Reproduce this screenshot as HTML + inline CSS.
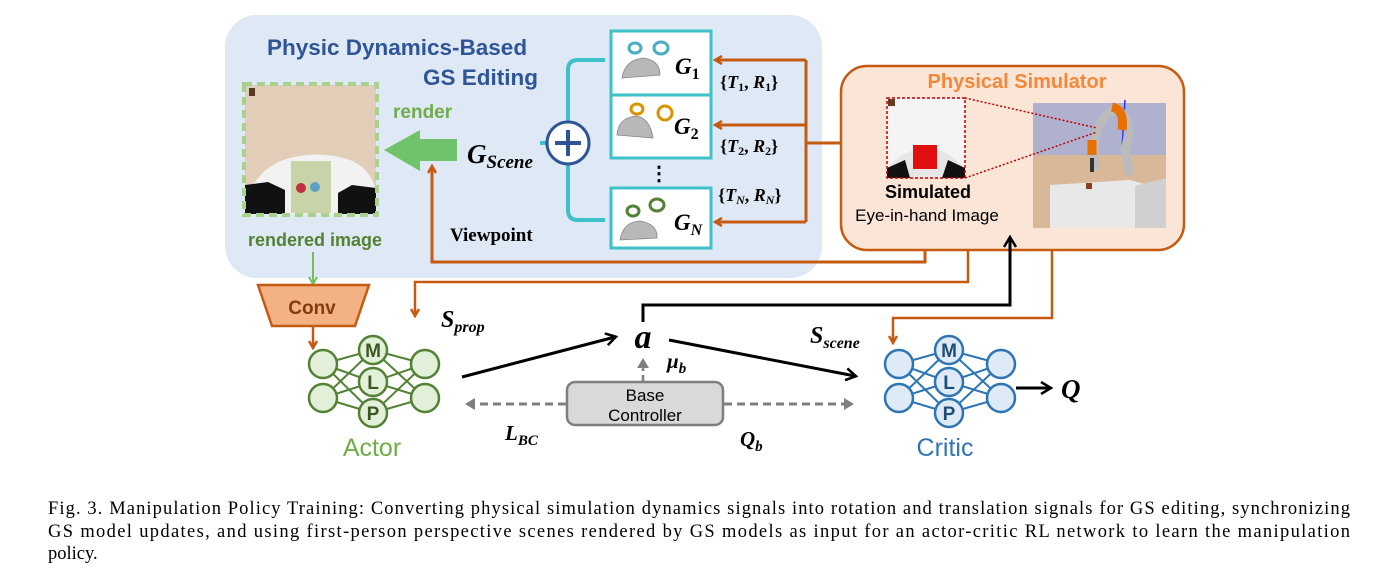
<!DOCTYPE html>
<html><head><meta charset="utf-8"><style>
html,body{margin:0;padding:0;background:#fff;}
svg{display:block;}
.ser{font-family:"Liberation Serif",serif;}
.san{font-family:"Liberation Sans",sans-serif;}
</style></head><body>
<svg width="1398" height="588" viewBox="0 0 1398 588" xmlns="http://www.w3.org/2000/svg">
<defs>
<marker id="ao" markerWidth="10" markerHeight="10" refX="7" refY="5" orient="auto" markerUnits="userSpaceOnUse"><path d="M1,1 L8,5 L1,9" fill="none" stroke="#c55a11" stroke-width="2.5"/></marker>
<marker id="ab" markerWidth="14" markerHeight="14" refX="10" refY="7" orient="auto" markerUnits="userSpaceOnUse"><path d="M1,1 L11,7 L1,13" fill="none" stroke="#000" stroke-width="2.5"/></marker>
<marker id="ag" markerWidth="12" markerHeight="12" refX="8" refY="6" orient="auto" markerUnits="userSpaceOnUse"><path d="M0,0 L10,6 L0,12 z" fill="#7f7f7f"/></marker>
<marker id="agr" markerWidth="10" markerHeight="10" refX="7" refY="5" orient="auto" markerUnits="userSpaceOnUse"><path d="M1,1 L8,5 L1,9" fill="none" stroke="#70c060" stroke-width="2"/></marker>
</defs>

<rect x="225" y="15" width="597" height="263" rx="32" fill="#dfe9f5"/>
<text x="397" y="55" text-anchor="middle" class="san" font-weight="bold" font-size="22.5" fill="#2f5597">Physic Dynamics-Based</text>
<text x="538" y="85" text-anchor="end" class="san" font-weight="bold" font-size="22.5" fill="#2f5597">GS Editing</text>

<rect x="245" y="85" width="131" height="129" fill="#e2cdb8"/>
<path d="M245,200 Q260,165 290,158 Q320,150 350,160 Q370,168 376,190 L376,214 L245,214 z" fill="#f2f2f2"/>
<rect x="291" y="161" width="40" height="52" fill="#c9d3a8"/>
<circle cx="301" cy="188" r="5" fill="#c03040"/><circle cx="315" cy="187" r="5" fill="#5aa0c8"/>
<path d="M245,185 L268,182 L285,190 L285,214 L245,214z" fill="#111"/>
<path d="M376,188 L352,185 L338,193 L338,214 L376,214z" fill="#111"/>
<rect x="249" y="88" width="6" height="8" fill="#5a3a20"/>
<rect x="244" y="84" width="133" height="131" fill="none" stroke="#a9d18e" stroke-width="4" stroke-dasharray="8,5"/>
<text x="393" y="118" class="san" font-weight="bold" font-size="19" fill="#70ad47">render</text>
<text x="248" y="246" class="san" font-weight="bold" font-size="18" fill="#548235">rendered image</text>
<path d="M384,150 L420,130 L420,139 L457,139 L457,161 L420,161 L420,171 z" fill="#70c36a"/>
<text x="467" y="163" class="ser" font-weight="bold" font-style="italic" font-size="27" fill="#000">G<tspan font-size="19" dy="5">Scene</tspan></text>

<path d="M540,143 L548,143" stroke="#3fc1c9" stroke-width="4"/>
<path d="M605,60 L578,60 Q568,60 568,70 L568,210 Q568,220 578,220 L605,220" fill="none" stroke="#3fc1c9" stroke-width="4"/>
<circle cx="568" cy="143" r="21" fill="#fff" stroke="#2f5597" stroke-width="3"/>
<path d="M555,143 L581,143 M568,130 L568,156" stroke="#2f5597" stroke-width="4"/>

<g stroke="#3fc1c9" stroke-width="3" fill="#fff">
<rect x="611" y="31" width="100" height="64"/>
<rect x="611" y="95" width="100" height="63"/>
<rect x="611" y="188" width="100" height="60"/>
</g>
<g fill="#b8b8b8" stroke="#888" stroke-width="0.8">
<path d="M622,78 Q625,60 643,58 Q660,60 660,75 Z"/>
<path d="M617,135 Q618,118 636,116 Q650,118 653,138 Z"/>
<path d="M620,240 Q623,222 640,221 Q658,224 657,238 Z"/>
</g>
<g fill="none" stroke-width="3">
<ellipse cx="635" cy="48" rx="6" ry="5" stroke="#4bacc6"/><ellipse cx="661" cy="48" rx="7" ry="6" stroke="#4bacc6"/>
<ellipse cx="637" cy="109" rx="6" ry="5" stroke="#d99500"/><ellipse cx="665" cy="113" rx="7" ry="7" stroke="#d99500"/>
<ellipse cx="633" cy="211" rx="6" ry="5" stroke="#548235"/><ellipse cx="657" cy="205" rx="7" ry="6" stroke="#548235"/>
</g>
<text x="675" y="74" class="ser" font-weight="bold" font-style="italic" font-size="23">G<tspan font-size="16" dy="5" font-style="normal">1</tspan></text>
<text x="674" y="134" class="ser" font-weight="bold" font-style="italic" font-size="23">G<tspan font-size="16" dy="5" font-style="normal">2</tspan></text>
<text x="674" y="230" class="ser" font-weight="bold" font-style="italic" font-size="23">G<tspan font-size="16" dy="5">N</tspan></text>
<text x="659" y="180" text-anchor="middle" class="ser" font-weight="bold" font-size="20">⋮</text>
<g class="ser" font-weight="bold" font-size="18">
<text x="720" y="88">{<tspan font-style="italic">T</tspan><tspan font-size="12" dy="3">1</tspan><tspan dy="-3">, </tspan><tspan font-style="italic">R</tspan><tspan font-size="12" dy="3">1</tspan><tspan dy="-3">}</tspan></text>
<text x="720" y="152">{<tspan font-style="italic">T</tspan><tspan font-size="12" dy="3">2</tspan><tspan dy="-3">, </tspan><tspan font-style="italic">R</tspan><tspan font-size="12" dy="3">2</tspan><tspan dy="-3">}</tspan></text>
<text x="718" y="201">{<tspan font-style="italic">T</tspan><tspan font-size="12" dy="3" font-style="italic">N</tspan><tspan dy="-3">, </tspan><tspan font-style="italic">R</tspan><tspan font-size="12" dy="3" font-style="italic">N</tspan><tspan dy="-3">}</tspan></text>
</g>
<text x="450" y="241" class="ser" font-weight="bold" font-size="19">Viewpoint</text>

<g fill="none" stroke="#c55a11" stroke-width="3">
<path d="M806,60 L806,222"/>
<path d="M806,143 L841,143"/>
<path d="M806,60 L716,60" marker-end="url(#ao)"/>
<path d="M806,125 L716,125" marker-end="url(#ao)"/>
<path d="M806,222 L716,222" marker-end="url(#ao)"/>
<path d="M925,250 L925,262 L432,262 L432,167" marker-end="url(#ao)"/>
</g>

<rect x="841" y="66" width="343" height="184" rx="26" fill="#fbe5d6" stroke="#c55a11" stroke-width="2.5"/>
<text x="1017" y="88" text-anchor="middle" class="san" font-weight="bold" font-size="20" fill="#f4883a">Physical Simulator</text>
<rect x="887" y="98" width="78" height="80" fill="#f4f4f4"/>
<path d="M887,170 Q900,150 926,148 Q952,150 965,170 L965,178 L887,178z" fill="#e6e6e6"/>
<rect x="913" y="145" width="24" height="24" fill="#e01010"/>
<path d="M887,168 L905,160 L910,178 L887,178z M965,168 L948,160 L942,178 L965,178z" fill="#111"/>
<rect x="888" y="99" width="7" height="7" fill="#6a3a20"/>
<rect x="887" y="98" width="78" height="80" fill="none" stroke="#c00000" stroke-width="1.5" stroke-dasharray="3,2"/>
<text x="928" y="198" text-anchor="middle" class="san" font-weight="bold" font-size="18">Simulated</text>
<text x="927" y="221" text-anchor="middle" class="san" font-size="17">Eye-in-hand Image</text>
<rect x="1033" y="103" width="133" height="125" fill="#b0b0cf"/>
<rect x="1033" y="155" width="133" height="73" fill="#d8b898"/>
<path d="M1050,185 L1130,180 L1166,190 L1166,228 L1050,228z" fill="#e8e8e8"/>
<path d="M1135,186 L1166,178 L1166,228 L1135,228z" fill="#d0d0d0"/>
<path d="M1125,100 L1122,150" stroke="#2030ff" stroke-width="1.5"/>
<path d="M1095,170 Q1090,120 1115,110 Q1135,115 1125,150 L1130,175" fill="none" stroke="#bbb" stroke-width="9"/>
<path d="M1112,107 Q1125,110 1122,130" fill="none" stroke="#e87000" stroke-width="9"/>
<path d="M1092,140 L1092,155" stroke="#e87000" stroke-width="9"/>
<path d="M1092,158 L1092,172" stroke="#333" stroke-width="4"/>
<rect x="1086" y="183" width="6" height="6" fill="#8a4020"/>
<path d="M965,98 L1097,128 M965,178 L1097,132" stroke="#c00000" stroke-width="1.5" stroke-dasharray="2,2"/>

<g fill="none" stroke="#c55a11" stroke-width="2.5">
<path d="M968,250 L968,282 L415,282 L415,315" marker-end="url(#ao)"/>
<path d="M1052,250 L1052,318 L893,318 L893,342" marker-end="url(#ao)"/>
<path d="M313,326 L313,347" marker-end="url(#ao)"/>
</g>
<path d="M313,252 L313,283" stroke="#70c060" stroke-width="2" marker-end="url(#agr)"/>
<path d="M643,322 L643,305 L1010,305 L1010,238" fill="none" stroke="#000" stroke-width="3" marker-end="url(#ab)"/>

<path d="M258,285 L369,285 L355,326 L272,326z" fill="#f4b183" stroke="#c55a11" stroke-width="2.5"/>
<text x="312" y="314" text-anchor="middle" class="san" font-weight="bold" font-size="19" fill="#843c0c">Conv</text>
<text x="441" y="327" class="ser" font-weight="bold" font-style="italic" font-size="24">S<tspan font-size="16" dy="5">prop</tspan></text>

<g stroke="#548235" stroke-width="2">
<path d="M323,364 L373,350 M323,364 L373,382 M323,364 L373,413 M323,398 L373,350 M323,398 L373,382 M323,398 L373,413 M425,364 L373,350 M425,364 L373,382 M425,364 L373,413 M425,398 L373,350 M425,398 L373,382 M425,398 L373,413"/>
</g>
<g fill="#e2f0d9" stroke="#548235" stroke-width="2.5">
<circle cx="323" cy="364" r="14"/><circle cx="323" cy="398" r="14"/>
<circle cx="373" cy="350" r="14"/><circle cx="373" cy="382" r="14"/><circle cx="373" cy="413" r="14"/>
<circle cx="425" cy="364" r="14"/><circle cx="425" cy="398" r="14"/>
</g>
<g class="san" font-weight="bold" font-size="19" fill="#385723" text-anchor="middle">
<text x="373" y="357">M</text><text x="373" y="389">L</text><text x="373" y="420">P</text></g>
<text x="372" y="456" text-anchor="middle" class="san" font-size="25" fill="#70ad47">Actor</text>

<g stroke="#2e75b6" stroke-width="2">
<path d="M899,364 L949,350 M899,364 L949,382 M899,364 L949,413 M899,398 L949,350 M899,398 L949,382 M899,398 L949,413 M1001,364 L949,350 M1001,364 L949,382 M1001,364 L949,413 M1001,398 L949,350 M1001,398 L949,382 M1001,398 L949,413"/>
</g>
<g fill="#deebf7" stroke="#2e75b6" stroke-width="2.5">
<circle cx="899" cy="364" r="14"/><circle cx="899" cy="398" r="14"/>
<circle cx="949" cy="350" r="14"/><circle cx="949" cy="382" r="14"/><circle cx="949" cy="413" r="14"/>
<circle cx="1001" cy="364" r="14"/><circle cx="1001" cy="398" r="14"/>
</g>
<g class="san" font-weight="bold" font-size="19" fill="#1f4e79" text-anchor="middle">
<text x="949" y="357">M</text><text x="949" y="389">L</text><text x="949" y="420">P</text></g>
<text x="945" y="456" text-anchor="middle" class="san" font-size="25" fill="#2e75b6">Critic</text>
<text x="810" y="343" class="ser" font-weight="bold" font-style="italic" font-size="24">S<tspan font-size="16" dy="5">scene</tspan></text>
<path d="M1016,388 L1050,388" stroke="#000" stroke-width="3" marker-end="url(#ab)"/>
<text x="1061" y="398" class="ser" font-weight="bold" font-style="italic" font-size="27">Q</text>

<text x="643" y="348" text-anchor="middle" class="ser" font-weight="bold" font-style="italic" font-size="34">a</text>
<path d="M462,377 L615,337" stroke="#000" stroke-width="3" marker-end="url(#ab)"/>
<path d="M669,340 L855,376" stroke="#000" stroke-width="3" marker-end="url(#ab)"/>
<path d="M643,381 L643,360" stroke="#7f7f7f" stroke-width="2.5" stroke-dasharray="6,4" marker-end="url(#ag)"/>
<text x="667" y="368" class="ser" font-weight="bold" font-style="italic" font-size="21">μ<tspan font-size="15" dy="5">b</tspan></text>
<rect x="567" y="382" width="156" height="43" rx="8" fill="#d9d9d9" stroke="#7f7f7f" stroke-width="2.5"/>
<text x="645" y="401" text-anchor="middle" class="san" font-size="17">Base</text>
<text x="645" y="421" text-anchor="middle" class="san" font-size="17">Controller</text>
<path d="M566,404 L467,404" stroke="#7f7f7f" stroke-width="3" stroke-dasharray="8,5" marker-end="url(#ag)"/>
<path d="M724,404 L852,404" stroke="#7f7f7f" stroke-width="3" stroke-dasharray="8,5" marker-end="url(#ag)"/>
<text x="505" y="440" class="ser" font-weight="bold" font-style="italic" font-size="21">L<tspan font-size="15" dy="5">BC</tspan></text>
<text x="740" y="446" class="ser" font-weight="bold" font-style="italic" font-size="21">Q<tspan font-size="15" dy="5">b</tspan></text>

<g class="ser" font-size="18.5" fill="#000">
<text x="48" y="514" textLength="1302" lengthAdjust="spacing">Fig. 3.   Manipulation Policy Training: Converting physical simulation dynamics signals into rotation and translation signals for GS editing, synchronizing</text>
<text x="48" y="537" textLength="1302" lengthAdjust="spacing">GS model updates, and using first-person perspective scenes rendered by GS models as input for an actor-critic RL network to learn the manipulation</text>
<text x="48" y="559">policy.</text>
</g>
</svg>
</body></html>
